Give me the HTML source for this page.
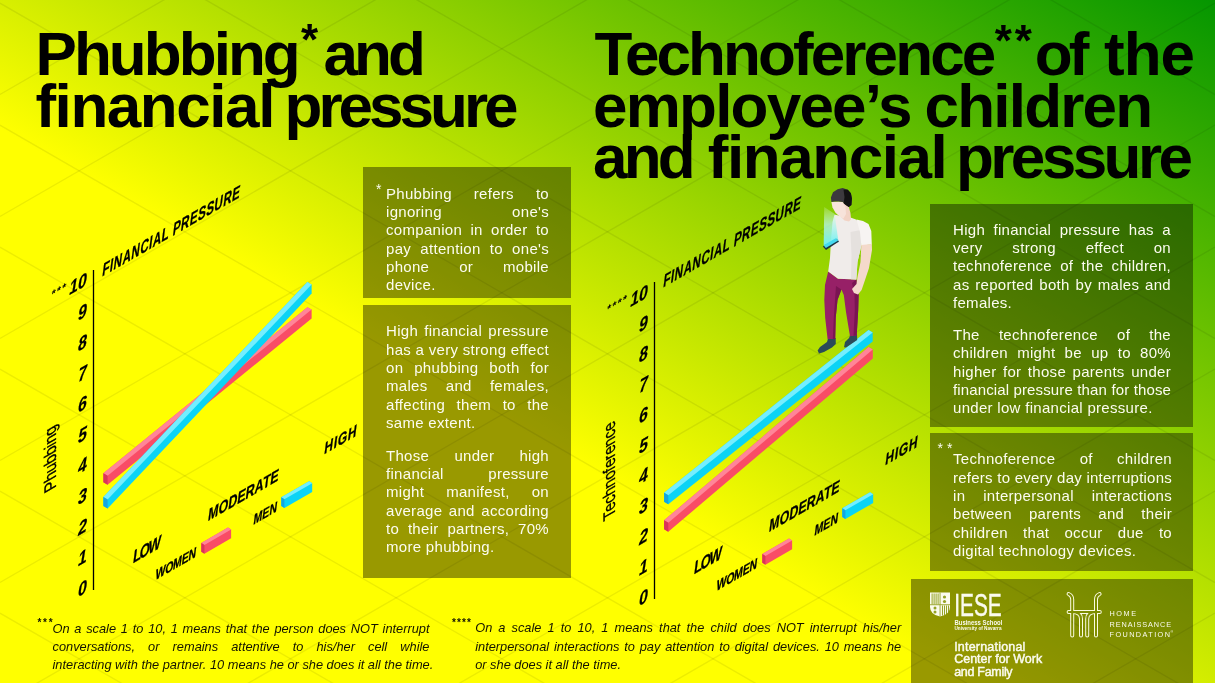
<!DOCTYPE html>
<html lang="en"><head><meta charset="utf-8"><title>Phubbing and Technoference</title>
<style>
*{margin:0;padding:0;box-sizing:border-box}
html,body{width:1215px;height:683px;overflow:hidden}
body{position:relative;font-family:"Liberation Sans",Arial,sans-serif;background:linear-gradient(210deg,#049600 0%,#ffff00 60%)}
#gfx{position:absolute;left:0;top:0}
.t{position:absolute;font-weight:bold;font-size:62px;line-height:52px;color:#000;white-space:nowrap}
.ast{position:absolute;font-weight:bold;font-size:44px;line-height:44px;color:#000;white-space:nowrap}
.box{position:absolute;background:rgba(0,0,0,0.4)}
.tx{position:absolute;color:#fcfcf0;font-size:15px;letter-spacing:0.3px;line-height:18.35px}
.tx div{text-align:justify;text-align-last:justify;white-space:nowrap;height:18.35px}
.tx div.l{text-align:left;text-align-last:left}
.tx div.gap{height:14.3px}
.fn{position:absolute;color:#141400;font-style:italic;font-size:12.8px;line-height:18.3px}
.fn div{text-align:justify;text-align-last:justify;white-space:nowrap;height:18.3px}
.fn div.l{text-align-last:left}
.sm{position:absolute;font-size:8px;font-weight:bold;color:#141400;letter-spacing:0.5px}
.logo{position:absolute;color:#fbfbee;white-space:nowrap}
</style></head>
<body>
<svg id="gfx" width="1215" height="683" viewBox="0 0 1215 683">
<g stroke="rgba(0,0,0,0.075)" stroke-width="1.4" fill="none"><line x1="0" y1="-850.9" x2="1215" y2="-149.4"/>
<line x1="0" y1="-728.9" x2="1215" y2="-27.4"/>
<line x1="0" y1="-606.9" x2="1215" y2="94.6"/>
<line x1="0" y1="-484.9" x2="1215" y2="216.6"/>
<line x1="0" y1="-362.9" x2="1215" y2="338.6"/>
<line x1="0" y1="-240.9" x2="1215" y2="460.6"/>
<line x1="0" y1="-118.9" x2="1215" y2="582.6"/>
<line x1="0" y1="3.1" x2="1215" y2="704.6"/>
<line x1="0" y1="125.1" x2="1215" y2="826.6"/>
<line x1="0" y1="247.1" x2="1215" y2="948.6"/>
<line x1="0" y1="369.1" x2="1215" y2="1070.6"/>
<line x1="0" y1="491.1" x2="1215" y2="1192.6"/>
<line x1="0" y1="613.1" x2="1215" y2="1314.6"/>
<line x1="0" y1="735.1" x2="1215" y2="1436.6"/>
<line x1="0" y1="-27.5" x2="1215" y2="-729"/>
<line x1="0" y1="94.5" x2="1215" y2="-607"/>
<line x1="0" y1="216.5" x2="1215" y2="-485"/>
<line x1="0" y1="338.5" x2="1215" y2="-363"/>
<line x1="0" y1="460.5" x2="1215" y2="-241"/>
<line x1="0" y1="582.5" x2="1215" y2="-119"/>
<line x1="0" y1="704.5" x2="1215" y2="3"/>
<line x1="0" y1="826.5" x2="1215" y2="125"/>
<line x1="0" y1="948.5" x2="1215" y2="247"/>
<line x1="0" y1="1070.5" x2="1215" y2="369"/>
<line x1="0" y1="1192.5" x2="1215" y2="491"/>
<line x1="0" y1="1314.5" x2="1215" y2="613"/>
<line x1="0" y1="1436.5" x2="1215" y2="735"/></g>
<g font-family="Liberation Sans, Arial, sans-serif" fill="#000">
<line x1="93.5" y1="270" x2="93.5" y2="590" stroke="#000" stroke-width="1.3"/>
<text transform="translate(86,592.5) skewY(-30) skewX(-10) scale(0.85,1)" font-size="18.5" font-weight="bold" text-anchor="end" stroke="#000" stroke-width="0.25">0</text>
<text transform="translate(86,561.8) skewY(-30) skewX(-10) scale(0.85,1)" font-size="18.5" font-weight="bold" text-anchor="end" stroke="#000" stroke-width="0.25">1</text>
<text transform="translate(86,531.1) skewY(-30) skewX(-10) scale(0.85,1)" font-size="18.5" font-weight="bold" text-anchor="end" stroke="#000" stroke-width="0.25">2</text>
<text transform="translate(86,500.4) skewY(-30) skewX(-10) scale(0.85,1)" font-size="18.5" font-weight="bold" text-anchor="end" stroke="#000" stroke-width="0.25">3</text>
<text transform="translate(86,469.7) skewY(-30) skewX(-10) scale(0.85,1)" font-size="18.5" font-weight="bold" text-anchor="end" stroke="#000" stroke-width="0.25">4</text>
<text transform="translate(86,439) skewY(-30) skewX(-10) scale(0.85,1)" font-size="18.5" font-weight="bold" text-anchor="end" stroke="#000" stroke-width="0.25">5</text>
<text transform="translate(86,408.3) skewY(-30) skewX(-10) scale(0.85,1)" font-size="18.5" font-weight="bold" text-anchor="end" stroke="#000" stroke-width="0.25">6</text>
<text transform="translate(86,377.6) skewY(-30) skewX(-10) scale(0.85,1)" font-size="18.5" font-weight="bold" text-anchor="end" stroke="#000" stroke-width="0.25">7</text>
<text transform="translate(86,346.9) skewY(-30) skewX(-10) scale(0.85,1)" font-size="18.5" font-weight="bold" text-anchor="end" stroke="#000" stroke-width="0.25">8</text>
<text transform="translate(86,316.2) skewY(-30) skewX(-10) scale(0.85,1)" font-size="18.5" font-weight="bold" text-anchor="end" stroke="#000" stroke-width="0.25">9</text>
<text transform="translate(86,285.5) skewY(-30) skewX(-10) scale(0.85,1)" font-size="18.5" font-weight="bold" text-anchor="end" stroke="#000" stroke-width="0.25">10</text>
<text transform="translate(51,298.5) skewY(-30) skewX(-8)" font-size="10.5" font-weight="bold" text-anchor="start" letter-spacing="1.2">***</text>
<text transform="translate(101.8,276.8) skewY(-30) skewX(-8) scale(0.66,1)" font-size="17.5" font-weight="bold" text-anchor="start" textLength="208.3" lengthAdjust="spacing" stroke="#000" stroke-width="0.3">FINANCIAL PRESSURE</text>
<text transform="translate(132.5,563.5) skewY(-30) skewX(-8) scale(0.75,1)" font-size="17.5" font-weight="bold" text-anchor="start" textLength="36.7" lengthAdjust="spacing" stroke="#000" stroke-width="0.3">LOW</text>
<text transform="translate(207.6,521.3) skewY(-30) skewX(-8) scale(0.75,1)" font-size="16.5" font-weight="bold" text-anchor="start" textLength="94" lengthAdjust="spacing" stroke="#000" stroke-width="0.3">MODERATE</text>
<text transform="translate(323.8,454.5) skewY(-30) skewX(-8) scale(0.75,1)" font-size="16" font-weight="bold" text-anchor="start" textLength="42.7" lengthAdjust="spacing" stroke="#000" stroke-width="0.3">HIGH</text>
<text transform="translate(155,580.3) skewY(-30) skewX(-8) scale(0.75,1)" font-size="14" font-weight="bold" text-anchor="start" textLength="54" lengthAdjust="spacing" stroke="#000" stroke-width="0.3">WOMEN</text>
<text transform="translate(253,525) skewY(-30) skewX(-8) scale(0.75,1)" font-size="14" font-weight="bold" text-anchor="start" textLength="31.3" lengthAdjust="spacing" stroke="#000" stroke-width="0.3">MEN</text>
<text transform="matrix(0,-1,1.2,-0.69,55.5,487.7)" font-size="14" stroke="#000" stroke-width="0.25" textLength="64" lengthAdjust="spacingAndGlyphs">Phubbing</text>
<line x1="654.5" y1="282" x2="654.5" y2="599" stroke="#000" stroke-width="1.3"/>
<text transform="translate(647,601.5) skewY(-30) skewX(-10) scale(0.85,1)" font-size="18.5" font-weight="bold" text-anchor="end" stroke="#000" stroke-width="0.25">0</text>
<text transform="translate(647,571.1) skewY(-30) skewX(-10) scale(0.85,1)" font-size="18.5" font-weight="bold" text-anchor="end" stroke="#000" stroke-width="0.25">1</text>
<text transform="translate(647,540.7) skewY(-30) skewX(-10) scale(0.85,1)" font-size="18.5" font-weight="bold" text-anchor="end" stroke="#000" stroke-width="0.25">2</text>
<text transform="translate(647,510.3) skewY(-30) skewX(-10) scale(0.85,1)" font-size="18.5" font-weight="bold" text-anchor="end" stroke="#000" stroke-width="0.25">3</text>
<text transform="translate(647,479.9) skewY(-30) skewX(-10) scale(0.85,1)" font-size="18.5" font-weight="bold" text-anchor="end" stroke="#000" stroke-width="0.25">4</text>
<text transform="translate(647,449.5) skewY(-30) skewX(-10) scale(0.85,1)" font-size="18.5" font-weight="bold" text-anchor="end" stroke="#000" stroke-width="0.25">5</text>
<text transform="translate(647,419.1) skewY(-30) skewX(-10) scale(0.85,1)" font-size="18.5" font-weight="bold" text-anchor="end" stroke="#000" stroke-width="0.25">6</text>
<text transform="translate(647,388.7) skewY(-30) skewX(-10) scale(0.85,1)" font-size="18.5" font-weight="bold" text-anchor="end" stroke="#000" stroke-width="0.25">7</text>
<text transform="translate(647,358.3) skewY(-30) skewX(-10) scale(0.85,1)" font-size="18.5" font-weight="bold" text-anchor="end" stroke="#000" stroke-width="0.25">8</text>
<text transform="translate(647,327.9) skewY(-30) skewX(-10) scale(0.85,1)" font-size="18.5" font-weight="bold" text-anchor="end" stroke="#000" stroke-width="0.25">9</text>
<text transform="translate(647,297.5) skewY(-30) skewX(-10) scale(0.85,1)" font-size="18.5" font-weight="bold" text-anchor="end" stroke="#000" stroke-width="0.25">10</text>
<text transform="translate(606.5,313.5) skewY(-30) skewX(-8)" font-size="10.5" font-weight="bold" text-anchor="start" letter-spacing="1.2">****</text>
<text transform="translate(662.8,287.8) skewY(-30) skewX(-8) scale(0.66,1)" font-size="17.5" font-weight="bold" text-anchor="start" textLength="208.3" lengthAdjust="spacing" stroke="#000" stroke-width="0.3">FINANCIAL PRESSURE</text>
<text transform="translate(693.5,574.5) skewY(-30) skewX(-8) scale(0.75,1)" font-size="17.5" font-weight="bold" text-anchor="start" textLength="36.7" lengthAdjust="spacing" stroke="#000" stroke-width="0.3">LOW</text>
<text transform="translate(768.6,532.3) skewY(-30) skewX(-8) scale(0.75,1)" font-size="16.5" font-weight="bold" text-anchor="start" textLength="94" lengthAdjust="spacing" stroke="#000" stroke-width="0.3">MODERATE</text>
<text transform="translate(884.8,465.5) skewY(-30) skewX(-8) scale(0.75,1)" font-size="16" font-weight="bold" text-anchor="start" textLength="42.7" lengthAdjust="spacing" stroke="#000" stroke-width="0.3">HIGH</text>
<text transform="translate(716,591.3) skewY(-30) skewX(-8) scale(0.75,1)" font-size="14" font-weight="bold" text-anchor="start" textLength="54" lengthAdjust="spacing" stroke="#000" stroke-width="0.3">WOMEN</text>
<text transform="translate(814,536) skewY(-30) skewX(-8) scale(0.75,1)" font-size="14" font-weight="bold" text-anchor="start" textLength="31.3" lengthAdjust="spacing" stroke="#000" stroke-width="0.3">MEN</text>
<text transform="matrix(0,-1,1.2,-0.69,615.2,515.6)" font-size="14" stroke="#000" stroke-width="0.25" textLength="96" lengthAdjust="spacingAndGlyphs">Technoference</text>
</g>
<polygon fill="#f94c66" points="103.4,473.3 307.4,307.2 311.6,309.6 311.6,318.6 107.6,484.7 103.4,482.3"/><polygon fill="#ff8598" points="103.4,473.3 307.4,307.2 311.6,309.6 107.6,475.7"/><polygon fill="#d9345a" points="103.4,473.3 107.6,475.7 107.6,484.7 103.4,482.3"/>
<polygon fill="#0bd3f5" points="103.4,497 307.4,282.1 311.6,284.5 311.6,293.5 107.6,508.4 103.4,506"/><polygon fill="#74eefe" points="103.4,497 307.4,282.1 311.6,284.5 107.6,499.4"/><polygon fill="#14a6e0" points="103.4,497 107.6,499.4 107.6,508.4 103.4,506"/>
<polygon fill="#f94c66" points="201.3,543 228,527.6 231.1,529.5 231.1,538.2 204.4,553.7 201.3,551.7"/><polygon fill="#ff8598" points="201.3,543 228,527.6 231.1,529.5 204.4,545"/><polygon fill="#d9345a" points="201.3,543 204.4,545 204.4,553.7 201.3,551.7"/>
<polygon fill="#0bd3f5" points="281.3,497.3 309.1,481.2 312.2,483.2 312.2,491.9 284.4,507.9 281.3,506"/><polygon fill="#74eefe" points="281.3,497.3 309.1,481.2 312.2,483.2 284.4,499.2"/><polygon fill="#14a6e0" points="281.3,497.3 284.4,499.2 284.4,507.9 281.3,506"/>
<polygon fill="#f94c66" points="664.1,520.3 868.6,347 872.8,349.4 872.8,358.4 668.3,531.7 664.1,529.3"/><polygon fill="#ff8598" points="664.1,520.3 868.6,347 872.8,349.4 668.3,522.7"/><polygon fill="#d9345a" points="664.1,520.3 668.3,522.7 668.3,531.7 664.1,529.3"/>
<polygon fill="#0bd3f5" points="664.1,492.8 868.5,330 872.7,332.4 872.7,341.4 668.3,504.2 664.1,501.8"/><polygon fill="#74eefe" points="664.1,492.8 868.5,330 872.7,332.4 668.3,495.2"/><polygon fill="#14a6e0" points="664.1,492.8 668.3,495.2 668.3,504.2 664.1,501.8"/>
<polygon fill="#f94c66" points="762.3,554 789,538.6 792.1,540.5 792.1,549.2 765.4,564.7 762.3,562.7"/><polygon fill="#ff8598" points="762.3,554 789,538.6 792.1,540.5 765.4,556"/><polygon fill="#d9345a" points="762.3,554 765.4,556 765.4,564.7 762.3,562.7"/>
<polygon fill="#0bd3f5" points="842.3,508.3 870.1,492.2 873.2,494.2 873.2,502.9 845.4,519 842.3,517"/><polygon fill="#74eefe" points="842.3,508.3 870.1,492.2 873.2,494.2 845.4,510.2"/><polygon fill="#14a6e0" points="842.3,508.3 845.4,510.2 845.4,519 842.3,517"/>

<g id="man">
  <defs>
    <linearGradient id="beam" x1="0" y1="1" x2="0" y2="0">
      <stop offset="0" stop-color="#6ff0f2" stop-opacity="1"/>
      <stop offset="0.55" stop-color="#b8f5ea" stop-opacity="0.75"/>
      <stop offset="1" stop-color="#e0ffd8" stop-opacity="0.2"/>
    </linearGradient>
  </defs>
  <!-- shoes -->
  <path fill="#2b4b59" d="M828,338.5 L835.7,338 L835.8,344 L832,347.5 L824,352 L819,353.5 L817.6,350.5 L820,347 L827,342 Z"/>
  <path fill="#2b4b59" d="M850,335.5 L857,334.3 L857.2,340 L852,343.5 L846,347.5 L844,347.3 L845,342 L849,338 Z"/>
  <!-- pants -->
  <path fill="#972067" d="M828.2,271.6 L838,278.7 L856.3,279.5 L858.6,295 L858.2,310 L856.7,335.5 L850,336.2 L846,312 L843.8,295 L841.4,289.5 L837.5,300 L835.7,318 L835.2,339 L827.6,339 L825.2,318 L824.3,300 L825,285 Z"/>
  <path fill="#7a1552" d="M852,283 L856.3,279.5 L858.6,295 L858.2,310 L856.7,335.5 L853.5,335.8 L854.8,310 L854.5,295 Z"/>
  <path fill="#7a1552" d="M836,286 L841.4,289.5 L837.5,300 L835.7,318 L835.2,339 L832.8,339 L833.8,318 L835,300 Z"/>
  <!-- shirt -->
  <path fill="#f0ecea" d="M834.5,214.5 L842.5,216.5 L849,217 L856,219.5 L860.7,224 L861.5,245 L857.5,262 L856.3,279.5 L838,278.7 L828.2,271.6 L830,258 L831,240 L832.5,222 Z"/>
  <path fill="#e5e1de" d="M850.5,232 L860.7,230 L861.5,245 L857.5,262 L856.3,279.5 L851,279.3 L851.5,255 Z"/>
  <!-- right sleeve + arm -->
  <path fill="#f7f4f2" d="M856.5,219.5 L863,221 L868.5,224 L871.3,231 L871.8,244.5 L861.3,245.5 L860,232 Z"/>
  <path fill="#f4d9cb" d="M861.3,245 L871.8,244 L872,250 L869,268 L864,283 L861.6,290 L858,294.5 L854,293 L852,289 L856.5,284 L857.5,277 L860.5,262 Z"/>
  <!-- neck/face -->
  <path fill="#f2d3c5" d="M842.7,202 L848.8,207.1 L850.5,213 L851,219.5 L849,221.5 L844.5,220.5 L841,217 Z"/>
  <path fill="#f7e3da" d="M831.4,202 L838.6,201.5 L842.7,202 L845.5,207 L846,214 L843.5,218.5 L839.6,216.5 L835.5,212.7 L832.5,207.5 Z"/>
  <!-- hair -->
  <path fill="#3c3a3e" d="M830.9,197.4 L833,192.2 L837.6,189.2 L842.7,188.1 L847.8,189.7 L850.9,193.3 L851.9,198.4 L851.4,205 L848.8,207.1 L845.8,205 L842.7,202 L838.6,201.5 L834.5,201.5 L831.4,202 Z"/>
  <path fill="#121212" d="M843.5,189.5 L847.8,189.7 L850.9,193.3 L851.9,198.4 L851.4,205 L848.8,207.1 L845.8,205 L843.7,203.5 L844.5,197 Z"/>
  <!-- beam + phone -->
  <path fill="url(#beam)" d="M824.2,207.1 L834.5,213.8 L838.6,242.5 L823.7,245 Z"/>
  <path fill="#1e3440" d="M822.8,246.5 L836.5,238.8 L839,241.5 L826,250 Z"/>
  <path fill="#45d9ef" d="M823.6,245.2 L835.8,238.2 L838.3,240.5 L825.8,248 Z"/>
</g>

</svg>

<div class="t" style="left:35.5px;top:28px;letter-spacing:-2.94px">Phubbing</div>
<div class="ast" style="left:301px;top:18px">*</div>
<div class="t" style="left:323.6px;top:28px;letter-spacing:-4px">and</div>
<div class="t" style="left:35.4px;top:80px;letter-spacing:-1.44px">financial</div>
<div class="t" style="left:284.5px;top:80px;letter-spacing:-3.99px">pressure</div>

<div class="t" style="left:594.5px;top:27.5px;letter-spacing:-2.89px">Technoference</div>
<div class="ast" style="left:994.8px;top:18.5px;letter-spacing:2.9px">**</div>
<div class="t" style="left:1034.8px;top:27.5px;letter-spacing:-3.8px">of</div>
<div class="t" style="left:1104px;top:27.5px;letter-spacing:-1px">the</div>
<div class="t" style="left:593px;top:79.5px;letter-spacing:-1.78px">employee’s</div>
<div class="t" style="left:924.6px;top:79.5px;letter-spacing:-1.8px">children</div>
<div class="t" style="left:593px;top:131px;letter-spacing:-3.75px">and</div>
<div class="t" style="left:707.7px;top:131px;letter-spacing:-1.43px">financial</div>
<div class="t" style="left:956px;top:131px;letter-spacing:-3.57px">pressure</div>

<div class="box" style="left:363px;top:167px;width:208px;height:131px"></div>
<div class="box" style="left:363px;top:305px;width:208px;height:273px"></div>
<div class="box" style="left:930px;top:204px;width:263px;height:223px"></div>
<div class="box" style="left:930px;top:433px;width:263px;height:138px"></div>
<div class="box" style="left:911px;top:579px;width:282px;height:104px"></div>

<div class="sm" style="left:376px;top:181px;color:#fcfcf0;font-weight:normal;font-size:14px">*</div>
<div class="tx" style="left:386px;top:184.6px;width:163px">
<div>Phubbing refers to</div>
<div>ignoring one's</div>
<div>companion in order to</div>
<div>pay attention to one's</div>
<div>phone or mobile</div>
<div class="l">device.</div>
</div>
<div class="tx" style="left:386px;top:322.4px;width:163px">
<div>High financial pressure</div>
<div>has a very strong effect</div>
<div>on phubbing both for</div>
<div>males and females,</div>
<div>affecting them to the</div>
<div class="l">same extent.</div>
<div class="gap"></div>
<div>Those under high</div>
<div>financial pressure</div>
<div>might manifest, on</div>
<div>average and according</div>
<div>to their partners, 70%</div>
<div class="l">more phubbing.</div>
</div>
<div class="tx" style="left:953px;top:220.6px;width:218px">
<div>High financial pressure has a</div>
<div>very strong effect on</div>
<div>technoference of the children,</div>
<div>as reported both by males and</div>
<div class="l">females.</div>
<div class="gap" style="height:13.55px"></div>
<div>The technoference of the</div>
<div>children might be up to 80%</div>
<div>higher for those parents under</div>
<div style="letter-spacing:0.12px">financial pressure than for those</div>
<div class="l">under low financial pressure.</div>
</div>
<div class="sm" style="left:937.5px;top:440px;color:#fcfcf0;font-weight:normal;font-size:14px;letter-spacing:4px">**</div>
<div class="tx" style="left:953px;top:450.4px;width:219px">
<div>Technoference of children</div>
<div style="letter-spacing:0.23px">refers to every day interruptions</div>
<div>in interpersonal interactions</div>
<div>between parents and their</div>
<div>children that occur due to</div>
<div class="l">digital technology devices.</div>
</div>

<div class="sm" style="left:37.5px;top:617px;font-size:10px;letter-spacing:1.7px">***</div>
<div class="fn" style="left:52.5px;top:619.7px;width:377px">
<div>On a scale 1 to 10, 1 means that the person does NOT interrupt</div>
<div>conversations, or remains attentive to his/her cell while</div>
<div class="l">interacting with the partner. 10 means he or she does it all the time.</div>
</div>
<div class="sm" style="left:452px;top:617.3px;font-size:10px;letter-spacing:1.1px">****</div>
<div class="fn" style="left:475.2px;top:619.4px;width:426px">
<div>On a scale 1 to 10, 1 means that the child does NOT interrupt his/her</div>
<div>interpersonal interactions to pay attention to digital devices. 10 means he</div>
<div class="l">or she does it all the time.</div>
</div>


<svg style="position:absolute;left:0;top:0" width="1215" height="683" viewBox="0 0 1215 683">
  <g fill="#fbfbee">
    <!-- IESE shield -->
    <path d="M930,592.6 H950 V607 Q950,614.5 940,616.6 Q930,614.5 930,607 Z" fill="#fbfbee"/>
    <g fill="#8a9a10" opacity="0.9">
      <rect x="931.6" y="593.5" width="1" height="11"/>
      <rect x="933.6" y="593.5" width="1" height="11"/>
      <rect x="935.6" y="593.5" width="1" height="11"/>
      <rect x="937.6" y="593.5" width="1" height="11"/>
      <rect x="942" y="605.5" width="1" height="10"/>
      <rect x="944" y="605.5" width="1" height="9.5"/>
      <rect x="946" y="605.5" width="1" height="8.5"/>
      <rect x="948" y="605.5" width="1" height="7"/>
      <circle cx="944.5" cy="597" r="1.6"/>
      <circle cx="944.5" cy="601.5" r="1.6"/>
      <circle cx="935" cy="608" r="1.5"/>
      <circle cx="935" cy="612" r="1.5"/>
      <rect x="930" y="604.3" width="20" height="0.9"/>
      <rect x="939.6" y="592.6" width="0.9" height="24"/>
    </g>
    <text x="954.2" y="616.3" font-family="Liberation Sans, Arial, sans-serif" font-size="31" stroke="#fbfbee" stroke-width="0.45" textLength="47.5" lengthAdjust="spacingAndGlyphs">IESE</text>
    <text x="954.5" y="624.6" font-family="Liberation Sans, Arial, sans-serif" font-size="7.6" font-weight="bold" textLength="47.8" lengthAdjust="spacingAndGlyphs">Business School</text>
    <text x="954.5" y="630" font-family="Liberation Sans, Arial, sans-serif" font-size="5.6" font-weight="bold" textLength="47" lengthAdjust="spacingAndGlyphs">University of Navarra</text>
  </g>
  <!-- HRF monogram -->
  <defs>
    <mask id="hrfm" maskUnits="userSpaceOnUse" x="1060" y="588" width="50" height="52">
      <g fill="none" stroke-linecap="round" stroke-linejoin="round">
        <g stroke="#fff" stroke-width="4">
          <path d="M1072.2,635.5 V599.5 Q1072.2,595.5 1068.6,594"/>
          <path d="M1096,635.5 V599.5 Q1096,595.5 1099.6,594"/>
          <path d="M1068.6,612 H1099.8"/>
          <path d="M1072.2,612 Q1081,612 1081,619 V635.5"/>
          <path d="M1096,612 Q1087.2,612 1087.2,619 V635.5"/>
        </g>
        <g stroke="#000" stroke-width="2">
          <path d="M1072.2,635.5 V599.5 Q1072.2,595.5 1068.6,594"/>
          <path d="M1096,635.5 V599.5 Q1096,595.5 1099.6,594"/>
          <path d="M1068.6,612 H1099.8"/>
          <path d="M1072.2,612 Q1081,612 1081,619 V635.5"/>
          <path d="M1096,612 Q1087.2,612 1087.2,619 V635.5"/>
        </g>
      </g>
    </mask>
  </defs>
  <rect x="1060" y="588" width="50" height="52" fill="#fbfbe0" mask="url(#hrfm)"/>
  <g fill="#fbfbee" font-family="Liberation Sans, Arial, sans-serif" font-size="7.3">
    <text x="1109.5" y="615.8" textLength="26.5" lengthAdjust="spacing">HOME</text>
    <text x="1109.5" y="626.6" textLength="61.5" lengthAdjust="spacing">RENAISSANCE</text>
    <text x="1109.5" y="636.6" textLength="60.5" lengthAdjust="spacing">FOUNDATION</text>
    <text x="1170.5" y="632.5" font-size="3.5">®</text>
  </g>
</svg>
<div class="logo" style="left:954.2px;top:640.5px;font-size:12.5px;font-weight:normal;-webkit-text-stroke:0.45px #fbfbee;line-height:12.55px"><span style="letter-spacing:0.2px">International</span><br>Center for Work<br><span style="letter-spacing:-0.3px">and Family</span></div>

</body></html>
